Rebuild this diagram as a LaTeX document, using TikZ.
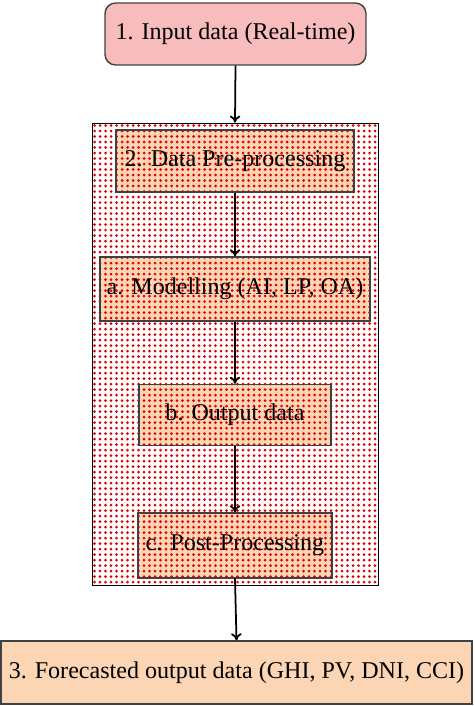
\documentclass[tikz,border=0pt]{standalone}
\usepackage{fontspec}
\setmainfont{Liberation Serif}
\usetikzlibrary{arrows.meta}
\pgfdeclarelayer{bg}
\pgfdeclarelayer{mid}
\pgfsetlayers{bg,mid,main}
\definecolor{pinkfill}{HTML}{F8BCBC}
\definecolor{boxfill}{HTML}{FCD5B4}
\definecolor{edge}{HTML}{404040}
\definecolor{dotred}{HTML}{E00000}
\begin{document}
\begin{tikzpicture}[x=0.02cm,y=-0.02cm,
  stepbox/.style={draw=edge, line width=0.8pt, font=\fontsize{13.7}{16}\selectfont, inner sep=0pt, anchor=center},
  arr/.style={-{To[length=4pt,width=6pt]}, line width=1pt}]
\useasboundingbox (0,0) rectangle (474,706);
\node[stepbox, fill=pinkfill, rounded corners=6pt, minimum width=5.22cm, minimum height=1.24cm] (in) at (235.5,34) {1. Input data (Real-time)};
\node[draw=black, line width=0.5pt, minimum width=5.72cm, minimum height=9.24cm, inner sep=0pt] (outer) at (235,354) {};
\node[stepbox, minimum width=4.76cm, minimum height=1.24cm] (pre) at (235,161) {2. Data Pre-processing};
\node[stepbox, minimum width=5.40cm, minimum height=1.28cm] (mod) at (235,289) {a. Modelling (AI, LP, OA)};
\node[stepbox, minimum width=3.84cm, minimum height=1.22cm] (out) at (235,415) {b. Output data};
\node[stepbox, minimum width=3.88cm, minimum height=1.30cm] (post) at (235,545.5) {c. Post-Processing};
\node[stepbox, fill=boxfill, minimum width=9.42cm, minimum height=1.26cm] (fc) at (236.5,672.5) {3. Forecasted output data (GHI, PV, DNI, CCI)};
\begin{pgfonlayer}{bg}
  \foreach \n in {pre,mod,out,post}
    \fill[boxfill] (\n.south west) rectangle (\n.north east);
\end{pgfonlayer}
\begin{pgfonlayer}{mid}
  \foreach \i in {0,...,51}
    \foreach \j in {0,...,83}
      \fill[dotred] (94.5+\i*5.5,125.5+\j*5.5) circle[radius=0.03cm];
\end{pgfonlayer}
\draw[arr] (in.south) -- (outer.north);
\draw[arr] (pre.south) -- (mod.north);
\draw[arr] (mod.south) -- (out.north);
\draw[arr] (out.south) -- (post.north);
\draw[arr] (post.south) -- (fc.north);
\end{tikzpicture}
\end{document}
